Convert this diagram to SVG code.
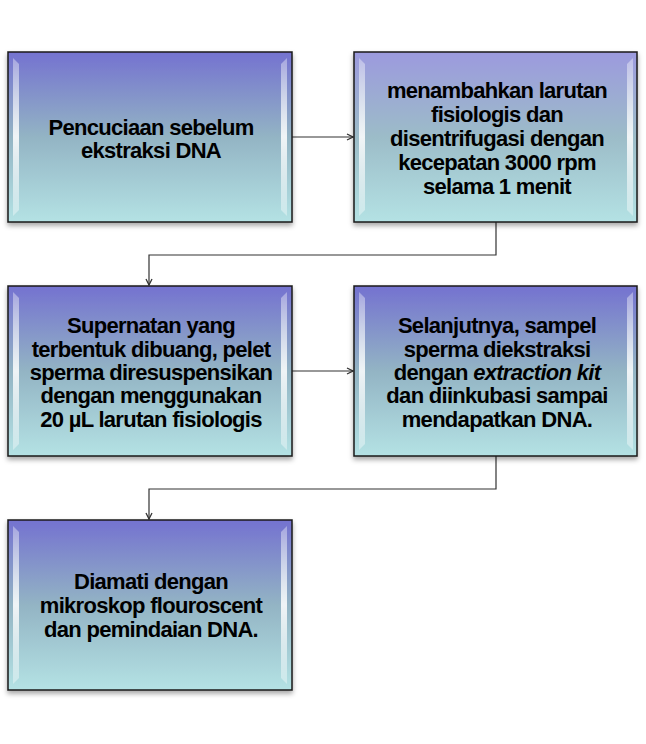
<svg xmlns="http://www.w3.org/2000/svg" width="646" height="744" viewBox="0 0 646 744">
<defs>
<linearGradient id="fill" x1="0" y1="0" x2="0" y2="1">
<stop offset="0" stop-color="#7472d0"/>
<stop offset="0.5" stop-color="#93b4c4"/>
<stop offset="1" stop-color="#b4e2e4"/>
</linearGradient>
<linearGradient id="fill2" x1="0" y1="0" x2="0" y2="1">
<stop offset="0" stop-color="#9c9ade"/>
<stop offset="0.5" stop-color="#9cbcc8"/>
<stop offset="1" stop-color="#b4e2e4"/>
</linearGradient>
<linearGradient id="bevel" x1="0" y1="0" x2="0" y2="1">
<stop offset="0" stop-color="#ffffff" stop-opacity="0.35"/>
<stop offset="0.5" stop-color="#ffffff" stop-opacity="0.85"/>
<stop offset="1" stop-color="#ffffff" stop-opacity="0.35"/>
</linearGradient>
<filter id="sh" x="-10%" y="-10%" width="120%" height="125%">
<feDropShadow dx="0" dy="3" stdDeviation="2.5" flood-color="#000" flood-opacity="0.35"/>
</filter>
<marker id="arr" markerWidth="8" markerHeight="8" refX="7" refY="4" orient="auto" markerUnits="userSpaceOnUse">
<path d="M1,1 L7,4 L1,7" fill="none" stroke="#333" stroke-width="1.3"/>
</marker>
<g id="bev">
<path d="M5,6 L11,12 L11,158 L5,164 Z" fill="url(#bevel)"/>
<path d="M279,6 L273,12 L273,158 L279,164 Z" fill="url(#bevel)"/>
</g>
</defs>
<style>
.box{stroke:#1a1a1a;stroke-width:1.5}
.t{font-family:"Liberation Sans",Arial,sans-serif;font-weight:bold;font-size:22px;letter-spacing:-0.7px;fill:#000;text-anchor:middle}
.c{fill:none;stroke:#333;stroke-width:1.2}
</style>
<rect width="646" height="744" fill="#fff"/>
<g id="connectors">
<line class="c" x1="292" y1="137" x2="353" y2="137" marker-end="url(#arr)"/>
<polyline class="c" points="496,222 496,255 149,255 149,285" marker-end="url(#arr)"/>
<line class="c" x1="292" y1="371" x2="353" y2="371" marker-end="url(#arr)"/>
<polyline class="c" points="496,456 496,489 149,489 149,519" marker-end="url(#arr)"/>
</g>
<g id="n1">
<rect class="box" x="8" y="52" width="284" height="170" fill="url(#fill)" filter="url(#sh)"/>
<use href="#bev" x="8" y="52"/>
<text class="t" x="151" y="135">Pencuciaan sebelum</text>
<text class="t" x="151" y="158">ekstraksi DNA</text>
</g>
<g id="n2">
<rect class="box" x="354" y="52" width="283" height="170" fill="url(#fill2)" filter="url(#sh)"/>
<use href="#bev" x="354" y="52"/>
<text class="t" x="497" y="98">menambahkan larutan</text>
<text class="t" x="497" y="122">fisiologis dan</text>
<text class="t" x="497" y="146">disentrifugasi dengan</text>
<text class="t" x="497" y="170">kecepatan 3000 rpm</text>
<text class="t" x="497" y="194">selama 1 menit</text>
</g>
<g id="n3">
<rect class="box" x="8" y="286" width="284" height="170" fill="url(#fill)" filter="url(#sh)"/>
<use href="#bev" x="8" y="286"/>
<text class="t" x="151" y="333">Supernatan yang</text>
<text class="t" x="151" y="357">terbentuk dibuang, pelet</text>
<text class="t" x="151" y="380">sperma diresuspensikan</text>
<text class="t" x="151" y="403">dengan menggunakan</text>
<text class="t" x="151" y="427">20 µL larutan fisiologis</text>
</g>
<g id="n4">
<rect class="box" x="354" y="286" width="283" height="170" fill="url(#fill)" filter="url(#sh)"/>
<use href="#bev" x="354" y="286"/>
<text class="t" x="497" y="333">Selanjutnya, sampel</text>
<text class="t" x="497" y="357">sperma diekstraksi</text>
<text class="t" x="497" y="380">dengan <tspan font-style="italic">extraction kit</tspan></text>
<text class="t" x="497" y="403">dan diinkubasi sampai</text>
<text class="t" x="497" y="427">mendapatkan DNA.</text>
</g>
<g id="n5">
<rect class="box" x="8" y="520" width="284" height="170" fill="url(#fill)" filter="url(#sh)"/>
<use href="#bev" x="8" y="520"/>
<text class="t" x="151" y="589">Diamati dengan</text>
<text class="t" x="151" y="613">mikroskop flouroscent</text>
<text class="t" x="151" y="637">dan pemindaian DNA.</text>
</g>
</svg>
